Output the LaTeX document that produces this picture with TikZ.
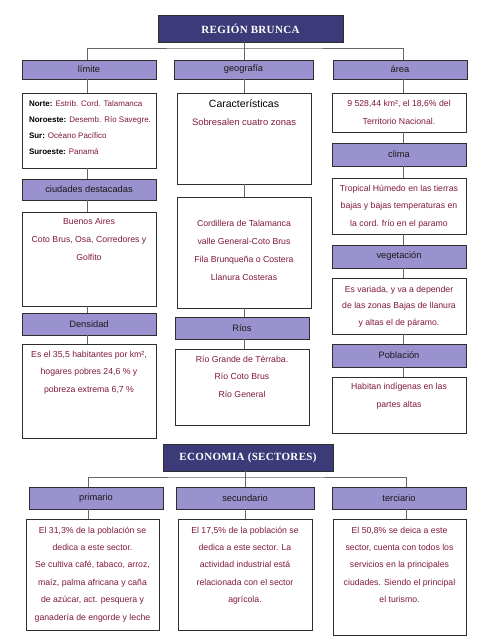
\documentclass[tikz,border=0pt]{standalone}
\usepackage{fontspec}
\setmainfont{Liberation Sans}
\newfontfamily\titlefont[LetterSpace=3]{Liberation Serif}
\definecolor{navy}{HTML}{3C3A78}
\definecolor{lav}{HTML}{9A92CE}
\definecolor{maroon}{HTML}{801A3A}
\definecolor{edge}{HTML}{2E2E2E}
\newcommand\boxnode[7]{\node[#1,minimum width={(#5)-(#3)},minimum height={(#6)-(#4)}] (#2) at ({((#3)+(#5))/2},{((#4)+(#6))/2}) {#7};}
\begin{document}
\begin{tikzpicture}[x=1pt,y=-1pt,
  titlebox/.style={fill=navy,draw=edge,line width=0.8pt,text=white,inner sep=0,outer sep=0,
    font=\titlefont\bfseries\fontsize{11}{13}\selectfont},
  hdr/.style={fill=lav,draw=edge,line width=1pt,text=black!90,inner sep=0,outer sep=0,
    font=\fontsize{9.3}{11}\selectfont},
  cbox/.style={fill=white,draw=edge,line width=0.7pt,inner sep=0,outer sep=0},
  ctext/.style={text=maroon,align=center,anchor=base,inner sep=0,outer sep=0},
  conn/.style={draw=black!60,line width=0.7pt}]
\useasboundingbox (0,0) rectangle (490,640);
\fill[white] (0,0) rectangle (490,640);

% column coordinates
\coordinate (cL) at (87,0);
\coordinate (cM) at (244,0);
\coordinate (cR) at (403,0);
\coordinate (eL) at (88,0);
\coordinate (eM) at (245,0);
\coordinate (eR) at (406,0);
\coordinate (bus) at (244,48);
\coordinate (ebus) at (245,477);

% boxes
\boxnode{titlebox}{title}{158}{15}{343}{42}{REGIÓN BRUNCA}
\boxnode{hdr}{limH}{22}{60}{156}{79}{límite}
\boxnode{hdr}{geoH}{174}{60}{313}{79}{geografía}
\boxnode{hdr}{areaH}{333}{60}{467}{79}{área}
\boxnode{cbox}{limB}{22}{93}{156}{168}{}
\boxnode{hdr}{ciuH}{22}{179}{156}{200}{ciudades destacadas}
\boxnode{cbox}{ciuB}{22}{212}{156}{306}{}
\boxnode{hdr}{denH}{22}{313}{156}{335}{Densidad}
\boxnode{cbox}{denB}{22}{344}{156}{438}{}
\boxnode{cbox}{geoB1}{177}{93}{311}{184}{}
\boxnode{cbox}{geoB2}{177}{197}{311}{308}{}
\boxnode{hdr}{riosH}{175}{317}{309}{339}{Ríos}
\boxnode{cbox}{riosB}{175}{349}{309}{425}{}
\boxnode{cbox}{areaB}{332}{93}{466}{132}{}
\boxnode{hdr}{climaH}{332}{143}{466}{166}{clima}
\boxnode{cbox}{climaB}{332}{178}{466}{234}{}
\boxnode{hdr}{vegH}{332}{245}{466}{268}{vegetación}
\boxnode{cbox}{vegB}{332}{278}{466}{334}{}
\boxnode{hdr}{pobH}{332}{344}{466}{367}{Población}
\boxnode{cbox}{pobB}{332}{377}{466}{433}{}
\boxnode{titlebox}{eco}{163}{444}{333}{471}{ECONOMIA (SECTORES)}
\boxnode{hdr}{priH}{29}{487}{163}{509}{primario}
\boxnode{hdr}{secH}{176}{487}{314}{509}{secundario}
\boxnode{hdr}{terH}{332}{487}{466}{509}{terciario}
\boxnode{cbox}{priB}{26}{519}{159}{630}{}
\boxnode{cbox}{secB}{178}{519}{312}{630}{}
\boxnode{cbox}{terB}{333}{519}{466}{635}{}

% connectors
\draw[conn] (cM |- title.south) -- (cM |- geoH.north);
\draw[conn] (cL |- limH.north) |- (bus) -| (cR |- areaH.north);
\draw[conn] (cL |- limH.south) -- (cL |- limB.north);
\draw[conn] (cL |- limB.south) -- (cL |- ciuH.north);
\draw[conn] (cL |- ciuH.south) -- (cL |- ciuB.north);
\draw[conn] (cL |- ciuB.south) -- (cL |- denH.north);
\draw[conn] (cL |- denH.south) -- (cL |- denB.north);
\draw[conn] (cM |- geoH.south) -- (cM |- geoB1.north);
\draw[conn] (cM |- geoB1.south) -- (cM |- geoB2.north);
\draw[conn] (cM |- geoB2.south) -- (cM |- riosH.north);
\draw[conn] (cM |- riosH.south) -- (cM |- riosB.north);
\draw[conn] (cR |- areaH.south) -- (cR |- areaB.north);
\draw[conn] (cR |- areaB.south) -- (cR |- climaH.north);
\draw[conn] (cR |- climaH.south) -- (cR |- climaB.north);
\draw[conn] (cR |- climaB.south) -- (cR |- vegH.north);
\draw[conn] (cR |- vegH.south) -- (cR |- vegB.north);
\draw[conn] (cR |- vegB.south) -- (cR |- pobH.north);
\draw[conn] (cR |- pobH.south) -- (cR |- pobB.north);
\draw[conn] (eM |- eco.south) -- (eM |- secH.north);
\draw[conn] (eL |- priH.north) |- (ebus) -| (eR |- terH.north);
\draw[conn] (eL |- priH.south) -- (eL |- priB.north);
\draw[conn] (eM |- secH.south) -- (eM |- secB.north);
\draw[conn] (eR |- terH.south) -- (eR |- terB.north);

% texts (anchor=base is the baseline of the LAST line)
\node[ctext,align=left,anchor=base west,font=\fontsize{8}{16}\selectfont] (limT) at (29,154)
 {\textcolor{black}{\bfseries Norte:} Estrib. Cord. Talamanca\\
  \textcolor{black}{\bfseries Noroeste:} Desemb. Río Savegre.\\
  \textcolor{black}{\bfseries Sur:} Océano Pacífico\\
  \textcolor{black}{\bfseries Suroeste:} Panamá};
\node[ctext,font=\fontsize{8.7}{18}\selectfont] (ciuT) at (89,260)
 {Buenos Aires\\Coto Brus, Osa, Corredores y\\Golfito};
\node[ctext,font=\fontsize{8.7}{17.5}\selectfont] (denT) at (89,392)
 {Es el 35,5 habitantes por km²,\\hogares pobres 24,6 \% y\\pobreza extrema 6,7 \%};
\node[ctext,text=black,font=\fontsize{10.5}{12}\selectfont] (geoT0) at (244,107) {Características};
\node[ctext,font=\fontsize{9.4}{12}\selectfont] (geoT1) at (244,125.5) {Sobresalen cuatro zonas};
\node[ctext,font=\fontsize{8.7}{17.7}\selectfont] (geoT2) at (244,280)
 {Cordillera de Talamanca\\valle General-Coto Brus\\Fila Brunqueña o Costera\\Llanura Costeras};
\node[ctext,font=\fontsize{8.7}{17.5}\selectfont] (riosT) at (242,397)
 {Río Grande de Térraba.\\Río Coto Brus\\Río General};
\node[ctext,font=\fontsize{8.7}{18}\selectfont] (areaT) at (399,124)
 {9 528,44 km², el 18,6\% del\\Territorio Nacional.};
\node[ctext,font=\fontsize{8.7}{17.5}\selectfont] (climaT) at (399,226)
 {Tropical Húmedo en las tierras\\bajas y bajas temperaturas en\\la cord. frío en el paramo};
\node[ctext,font=\fontsize{8.7}{16.5}\selectfont] (vegT) at (399,325)
 {Es variada, y va a depender\\de las zonas Bajas de llanura\\y altas el de páramo.};
\node[ctext,font=\fontsize{8.7}{18}\selectfont] (pobT) at (399,407)
 {Habitan indígenas en las\\partes altas};
\node[ctext,font=\fontsize{8.7}{17.4}\selectfont] (priT) at (92.5,620)
 {El 31,3\% de la población se\\dedica a este sector.\\Se cultiva café, tabaco, arroz,\\maíz, palma africana y caña\\de azúcar, act. pesquera y\\ganadería de engorde y leche};
\node[ctext,font=\fontsize{8.7}{17.4}\selectfont] (secT) at (245,602.6)
 {El 17,5\% de la población se\\dedica a este sector. La\\actividad industrial está\\relacionada con el sector\\agrícola.};
\node[ctext,font=\fontsize{8.7}{17.4}\selectfont] (terT) at (399.5,602.6)
 {El 50,8\% se deica a este\\sector, cuenta con todos los\\servicios en la principales\\ciudades. Siendo el principal\\el turismo.};
\end{tikzpicture}
\end{document}
